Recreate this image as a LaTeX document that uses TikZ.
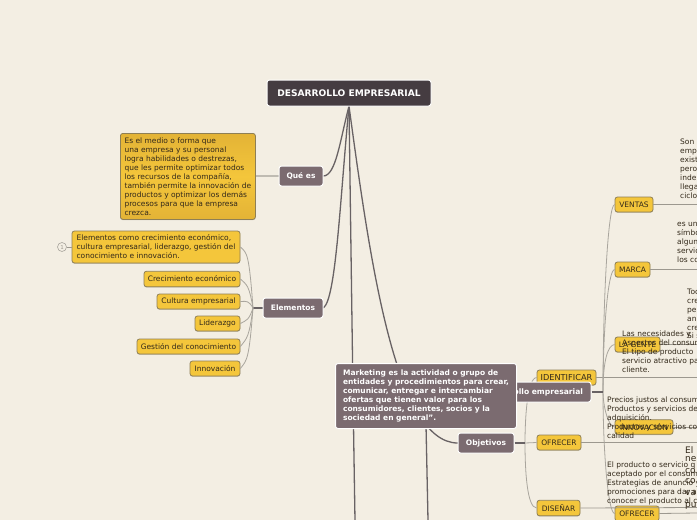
\documentclass[tikz,border=0pt]{standalone}
\usepackage{fontspec}
\setmainfont{DejaVu Sans}
\usetikzlibrary{shadows}
\definecolor{bgc}{HTML}{F3EEE3}
\definecolor{yel}{HTML}{F4C63B}
\definecolor{yeld}{HTML}{E3B336}
\definecolor{yelb}{HTML}{8E7F55}
\definecolor{mauve}{HTML}{7B6B70}
\definecolor{rootc}{HTML}{453C41}
\definecolor{ink}{HTML}{33291A}
\definecolor{linkd}{HTML}{686264}
\definecolor{linkl}{HTML}{A9A59D}
\definecolor{linkm}{HTML}{9C988F}
\tikzset{
  x=1pt,y=-1pt,
  boxy/.style={rounded corners=2.5pt,inner sep=0pt,align=center,text=ink,draw=yelb,line width=.8pt,
    top color=yel,bottom color=yel,middle color=yel,
    drop shadow={shadow xshift=0pt,shadow yshift=-.8pt,fill=black,opacity=.18},
    font=\fontsize{7.5}{9}\selectfont},
  bigboxy/.style={boxy,top color=yeld,bottom color=yeld,middle color=yel,align=left},
  mauvebox/.style={rounded corners=2.5pt,inner sep=0pt,align=center,text=white,draw=white,line width=1pt,
    fill=mauve,font=\fontsize{7.5}{9}\selectfont\bfseries},
  rootbox/.style={mauvebox,fill=rootc,font=\fontsize{9.1}{10}\selectfont\bfseries},
  plain/.style={inner sep=0pt,anchor=north west,align=left,text=ink,font=\fontsize{7.5}{9}\selectfont},
  bigplain/.style={plain,font=\fontsize{9}{10}\selectfont},
  trunk/.style={draw=linkd,line width=1.3pt},
  hub/.style={draw=linkd,line width=1.3pt},
  twig/.style={draw=linkl,line width=.8pt},
  reach/.style={draw=linkm,line width=.8pt},
  pale/.style={draw=linkl!70!bgc,line width=1.6pt},
}
\begin{document}
\begin{tikzpicture}
\useasboundingbox[fill=bgc] (0,0) rectangle (697,520);

\coordinate (offA) at (355,520);
\coordinate (offB) at (428,520);
\coordinate (marketUnder) at (426,425);
\coordinate (hubE) at (253,308);
\coordinate (hubD) at (603,392);
\coordinate (hubO) at (525,443);
\coordinate (edgeV) at (697,204.5);
\coordinate (edgeM) at (697,269.5);
\coordinate (edgeG) at (697,344.5);
\coordinate (edgeI) at (697,377.5);
\coordinate (edgeN) at (697,427);
\coordinate (edgeO) at (697,442.5);
\coordinate (edgeD) at (697,507.5);
\coordinate (edgeF) at (697,513);

\path (349,93) node[minimum width=164pt,minimum height=26pt,inner sep=0pt,name=root] {};
\path (301,176) node[minimum width=44pt,minimum height=20pt,inner sep=0pt,name=quePos] {};
\path (293,308) node[minimum width=60pt,minimum height=20pt,inner sep=0pt,name=elemPos] {};
\path (486,443) node[minimum width=56pt,minimum height=20pt,inner sep=0pt,name=objPos] {};
\path (530,392) node[minimum width=122pt,minimum height=20pt,inner sep=0pt,name=desPos] {};

\draw[trunk] (root.south) .. controls (340,140) and (336,176) .. (quePos.east);
\draw[trunk] (root.south) .. controls (340,200) and (336,300) .. (elemPos.east);
\draw[trunk] (root.south) .. controls (351,250) and (353,400) .. (offA);
\draw[trunk] (root.south) .. controls (370,260) and (395,443) .. (objPos.west);
\draw[trunk] (marketUnder) -- (offB);

\node[bigboxy,minimum width=135pt,minimum height=86pt,anchor=north west] (queText) at (120,133)
 {Es el medio o forma que\\una empresa y su personal\\logra habilidades o destrezas,\\que les permite optimizar todos\\los recursos de la compañía,\\también permite la innovación de\\productos y optimizar los demás\\procesos para que la empresa\\crezca.};
\draw[pale] (quePos.west) -- (queText.east |- quePos.west);

\node[boxy,minimum width=168pt,minimum height=32pt,align=left] (eText) at (156,247)
 {Elementos como crecimiento económico,\\cultura empresarial, liderazgo, gestión del\\conocimiento e innovación.};
\node[boxy,minimum width=96pt,minimum height=15.5pt] (eCrec) at (192,279) {Crecimiento económico};
\node[boxy,minimum width=83pt,minimum height=15pt] (eCult) at (198.5,301.5) {Cultura empresarial};
\node[boxy,minimum width=45pt,minimum height=15pt] (eLid) at (217.5,323.5) {Liderazgo};
\node[boxy,minimum width=103pt,minimum height=15pt] (eGest) at (188.5,346.5) {Gestión del conocimiento};
\node[boxy,minimum width=50pt,minimum height=15pt] (eInno) at (215,368.5) {Innovación};
\node[circle,draw=linkl,fill=bgc,line width=.6pt,minimum size=9pt,inner sep=0pt,text=linkm,font=\fontsize{5.5}{6}\selectfont] (eNote) at (62,247) {1};
\draw[draw=linkm,line width=.8pt] (eNote) -- (eText);

\draw[hub] (elemPos.west) -- (hubE);
\foreach \t/\yy in {eText/253,eCrec/285,eCult/301,eLid/320,eGest/338,eInno/360}{
  \draw[twig] (hubE) .. controls (249,\yy) and (247,\yy) .. (\t.east);
}

\node[boxy,minimum width=38pt,minimum height=15pt] (rVent) at (634,204.5) {VENTAS};
\node[boxy,minimum width=35pt,minimum height=15pt] (rMarc) at (632.5,269.5) {MARCA};
\node[boxy,minimum width=45pt,minimum height=15pt] (rGent) at (637.5,344.5) {LA GENTE};
\node[boxy,minimum width=58pt,minimum height=14.5pt] (rInno) at (644,427) {INNOVACIÓN};
\node[boxy,minimum width=44pt,minimum height=15pt] (rOfre) at (637,513.5) {OFRECER};
\node[boxy,minimum width=59pt,minimum height=15pt,font=\fontsize{8.2}{9}\selectfont] (oIden) at (566.5,377.5) {IDENTIFICAR};
\node[boxy,minimum width=44pt,minimum height=15pt] (oOfre) at (559,442.5) {OFRECER};
\node[boxy,minimum width=43pt,minimum height=15.5pt] (oDise) at (558.5,508) {DISEÑAR};

\draw[reach] (rVent.east) -- (edgeV);
\draw[reach] (rMarc.east) -- (edgeM);
\draw[reach] (rGent.east) -- (edgeG);
\draw[reach] (oIden.east) -- (edgeI);
\draw[reach] (rInno.east) -- (edgeN);
\draw[reach] (oOfre.east) -- (edgeO);
\draw[reach] (oDise.east) -- (edgeD);
\draw[reach] (rOfre.east) -- (edgeF);

\foreach \t/\ca/\cb in {rVent/300/205,rMarc/330/270,rGent/360/345,rInno/405/427,rOfre/450/513}{
  \draw[twig] (hubD) .. controls (603,\ca) and (608,\cb) .. (\t.west);
}
\draw[twig] (hubO) .. controls (525,420) and (527,378) .. (oIden.west);
\draw[twig] (hubO) -- (oOfre.west);
\draw[twig] (hubO) .. controls (525,470) and (527,508) .. (oDise.west);

\node[mauvebox,inner xsep=8pt,text width=106pt,minimum height=20pt,align=right,name=des,font=\fontsize{7.6}{9}\selectfont\bfseries] at (desPos) {Desarrollo empresarial};
\draw[hub] (des.east) -- (hubD);
\node[mauvebox,minimum width=56pt,minimum height=20pt,name=obj] at (objPos) {Objetivos};
\draw[hub] (obj.east) -- (hubO);
\node[mauvebox,minimum width=44pt,minimum height=20pt,name=que] at (quePos) {Qué es};
\node[mauvebox,minimum width=60pt,minimum height=20pt,name=elem] at (elemPos) {Elementos};
\node[rootbox,minimum width=164pt,minimum height=26pt,name=rootShown] at (root) {DESARROLLO EMPRESARIAL};
\node[mauvebox,minimum width=181pt,minimum height=65pt,align=left,name=market,anchor=north west] at (335,363)
 {Marketing es la actividad o grupo de\\entidades y procedimientos para crear,\\comunicar, entregar e intercambiar\\ofertas que tienen valor para los\\consumidores, clientes, socios y la\\sociedad en general”.};

\node[plain] (tA) at (680,139) {Son\\emp\\exist\\pero\\inde\\llega\\ciclo};
\node[plain] (tB) at (677,222.5) {es un\\símbo\\algun\\servic\\los co};
\node[plain] (tC) at (687,289) {Too\\cre\\per\\an\\cre};
\node[plain] (tC2) at (687,332.5) {Si s};
\node[plain] (tD) at (622,330.5) {Las necesidades y\\Aspectos del consumi\\El tipo de producto\\servicio atractivo pa\\cliente.};
\node[plain] (tE) at (607,396.5) {Precios justos al consum\\Productos y servicios de\\adquisición.\\Productos y servicios co\\calidad};
\node[plain] (tF) at (607,461.5) {El producto o servicio q\\aceptado por el consum\\Estrategias de anuncio y\\promociones para dar a\\conocer el producto al c};
\node[bigplain] (tG1) at (685,446) {El};
\node[bigplain] (tG2) at (685,456.5) {ne};
\node[bigplain] (tG3) at (685,468) {co};
\node[bigplain] (tG4) at (685,478) {co};
\node[bigplain] (tG5) at (685,490.5) {va};
\node[bigplain] (tG6) at (685,502) {pu};
\end{tikzpicture}
\end{document}
